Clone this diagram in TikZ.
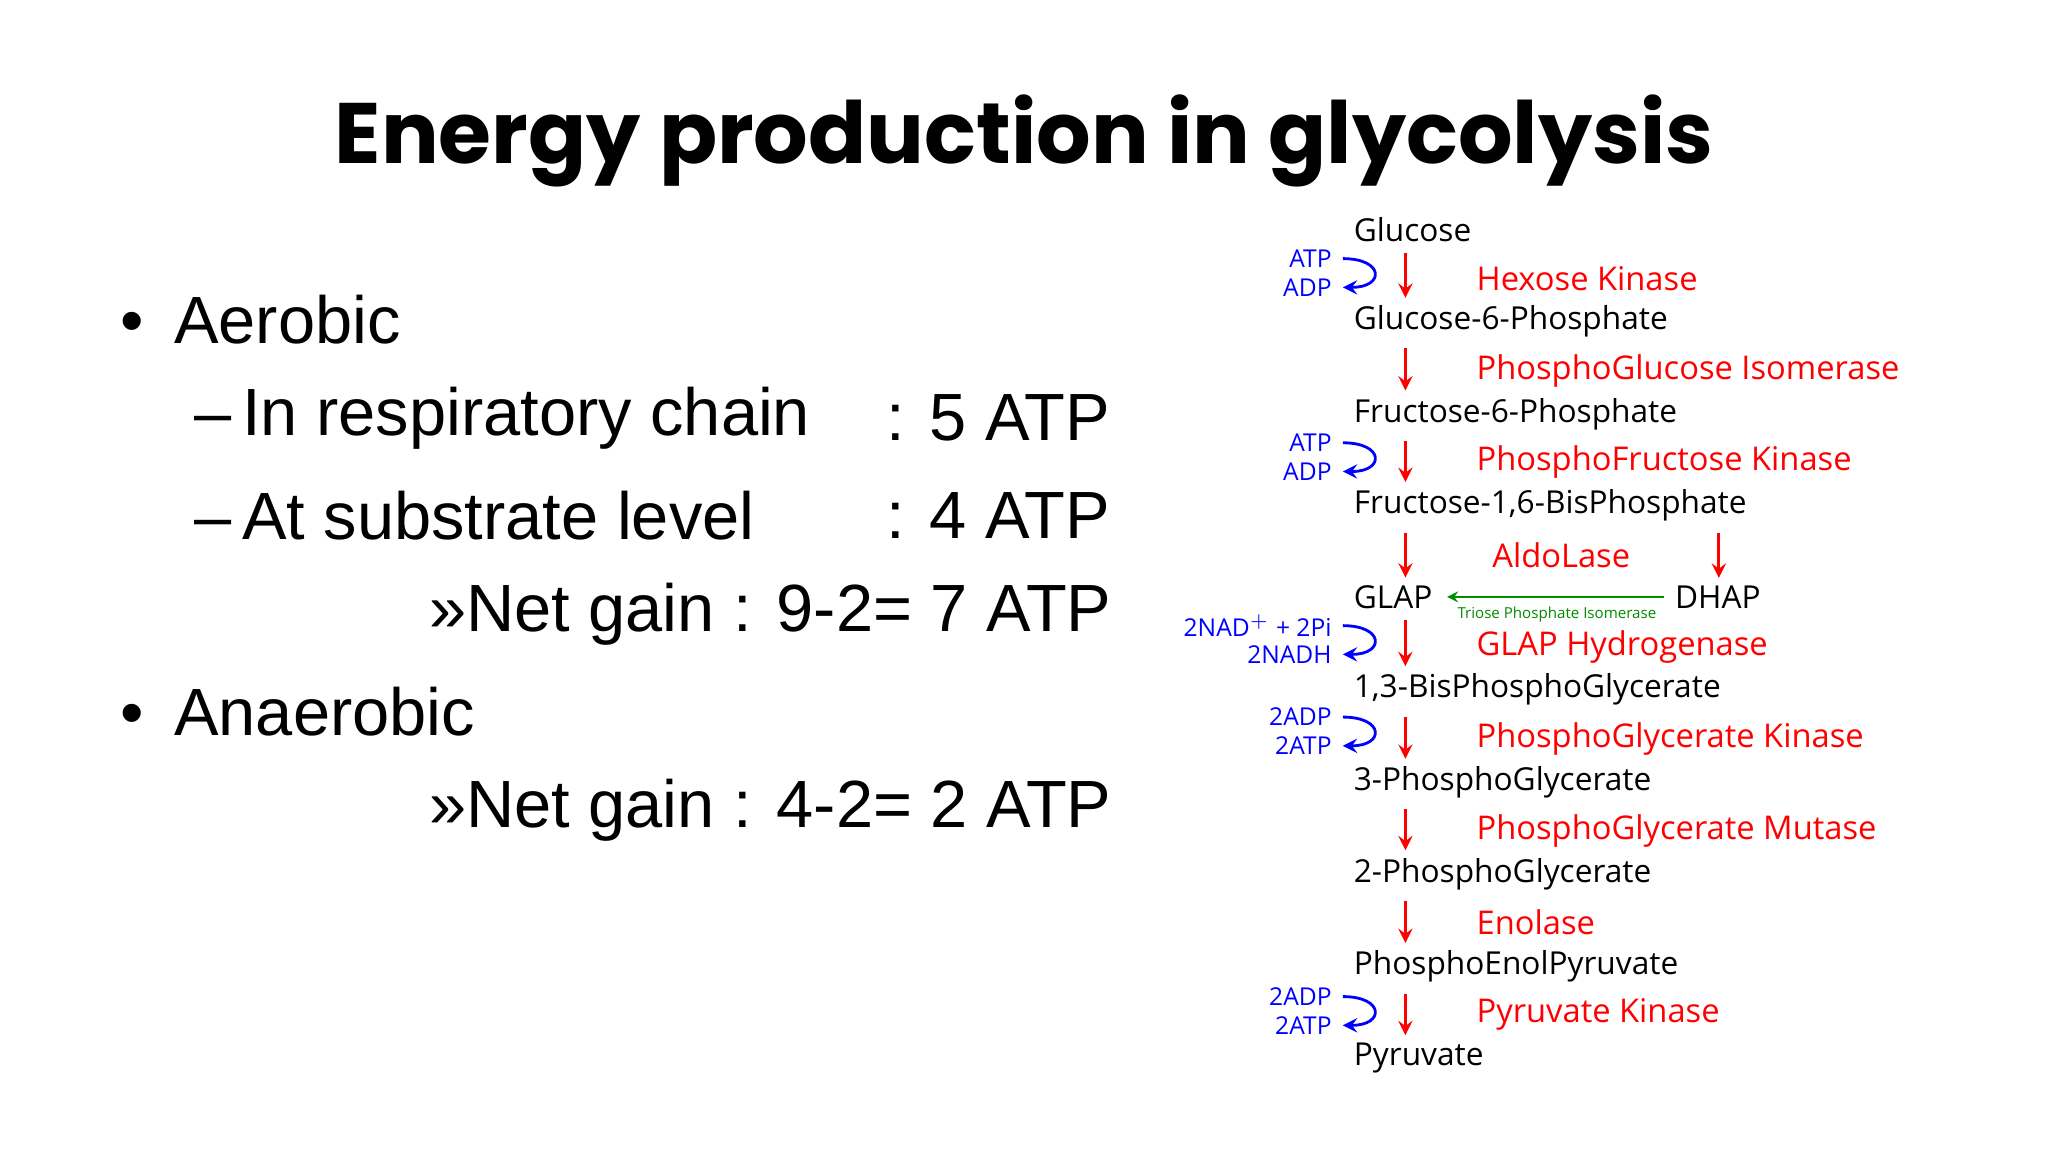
\documentclass[tikz,border=0pt]{standalone}
\usepackage{fontspec}
\setmainfont{Liberation Sans}
\newfontfamily\titlefont{Poppins}
\newfontfamily\chemfont{Open Sans}
\usetikzlibrary{positioning}
\tikzset{
	metab/.style={anchor=west, font=\chemfont\fontsize{9}{10}\selectfont, inner sep=0pt},
	enzyme/.style={anchor=west, font=\chemfont\fontsize{9.3}{10}\selectfont, text=red, inner sep=0pt},
	cofac/.style={anchor=east, font=\chemfont\fontsize{7}{8}\selectfont, text=blue, inner sep=0pt},
	bigtext/.style={anchor=west, font=\fontsize{19}{22}\selectfont, inner sep=0pt},
	steparrow/.style={->, >=stealth, red, thick},
	cofarrow/.style={->, >=stealth, blue, thick}
}
\begin{document}
\begin{tikzpicture}[x=0.1306mm, y=-0.1306mm]
		\useasboundingbox (0,0) rectangle (1568,882);
		\node[font=\titlefont\bfseries\fontsize{24.4}{28}\selectfont] (title) at (784,108) {Energy production in glycolysis};
		% left column
		\node[bigtext] (aer) at (92,245) {\textbullet\hspace{0.45em}Aerobic};
		\node[bigtext] (resp) at (148,320) {\textendash\,In respiratory chain};
		\node[bigtext] (respv) at (678,320) {: 5 ATP};
		\node[bigtext] (subs) at (148,395) {\textendash\,At substrate level};
		\node[bigtext] (subsv) at (678,395) {: 4 ATP};
		\node[bigtext] (net1) at (328,470) {»Net gain : 9-2= 7 ATP};
		\node[bigtext] (anaer) at (92,545) {\textbullet\hspace{0.45em}Anaerobic};
		\node[bigtext] (net2) at (328,620) {»Net gain : 4-2= 2 ATP};
		% metabolites
		\node[metab] (glc) at (1036,176) {Glucose};
		\node[metab] (g6p) at (1036,246) {Glucose-6-Phosphate};
		\node[metab] (f6p) at (1036,317) {Fructose-6-Phosphate};
		\node[metab] (fbp) at (1036,387) {Fructose-1,6-BisPhosphate};
		\node[metab] (glap) at (1036,457) {GLAP};
		\node[metab] (dhap) at (1282,457) {DHAP};
		\node[metab] (bpg) at (1036,528) {1,3-BisPhosphoGlycerate};
		\node[metab] (pg3) at (1036,599) {3-PhosphoGlycerate};
		\node[metab] (pg2) at (1036,669) {2-PhosphoGlycerate};
		\node[metab] (pep) at (1036,740) {PhosphoEnolPyruvate};
		\node[metab] (pyr) at (1036,810) {Pyruvate};
		% enzymes
		\node[enzyme] (hk) at (1130,213) {Hexose Kinase};
		\node[enzyme] (pgi) at (1130,284) {PhosphoGlucose Isomerase};
		\node[enzyme] (pfk) at (1130,354) {PhosphoFructose Kinase};
		\node[enzyme] (ald) at (1142,425) {AldoLase};
		\node[enzyme] (gapdh) at (1130,495) {GLAP Hydrogenase};
		\node[enzyme] (pgk) at (1130,566) {PhosphoGlycerate Kinase};
		\node[enzyme] (pgm) at (1130,636) {PhosphoGlycerate Mutase};
		\node[enzyme] (eno) at (1130,706) {Enolase};
		\node[enzyme] (pk) at (1130,777) {Pyruvate Kinase};
		\node[anchor=north, font=\chemfont\fontsize{4.3}{5}\selectfont, text=green!55!black, inner sep=0pt] (tpi) at (1192,464) {Triose Phosphate Isomerase};
		% cofactors
		\node[cofac] (atp1) at (1020,198) {ATP};
		\node[cofac] (adp1) at (1020,220) {ADP};
		\node[cofac] (atp2) at (1020,339) {ATP};
		\node[cofac] (adp2) at (1020,361) {ADP};
		\node[cofac] (nad) at (1020,479) {2NAD$^{+}$ + 2Pi};
		\node[cofac] (nadh) at (1020,501) {2NADH};
		\node[cofac] (adp3) at (1020,549) {2ADP};
		\node[cofac] (atp3) at (1020,571) {2ATP};
		\node[cofac] (adp4) at (1020,763) {2ADP};
		\node[cofac] (atp4) at (1020,785) {2ATP};
		% main arrows
		\coordinate (arrx) at (1076,0);
		\coordinate (dhx) at (1316,0);
		\foreach \a/\b in {glc/g6p, g6p/f6p, f6p/fbp, fbp/glap, glap/bpg, bpg/pg3, pg3/pg2, pg2/pep, pep/pyr}
			\draw[steparrow] ([yshift=-3pt]\a.south west -| arrx) -- ([yshift=2pt]\b.north west -| arrx);
		\draw[steparrow] ([yshift=-3pt]fbp.south west -| dhx) -- ([yshift=2pt]dhap.north west -| dhx);
		\draw[->, >=stealth, green!55!black] ([xshift=-3pt]dhap.west) -- ([xshift=4pt]glap.east);
		% cofactor arrows
		\foreach \a/\b in {atp1/adp1, atp2/adp2, nad/nadh, adp3/atp3, adp4/atp4}
			\draw[cofarrow] ([xshift=3pt]\a.east) .. controls +(32,0) and +(32,0) .. ([xshift=3pt]\b.east);
	\end{tikzpicture}
\end{document}
